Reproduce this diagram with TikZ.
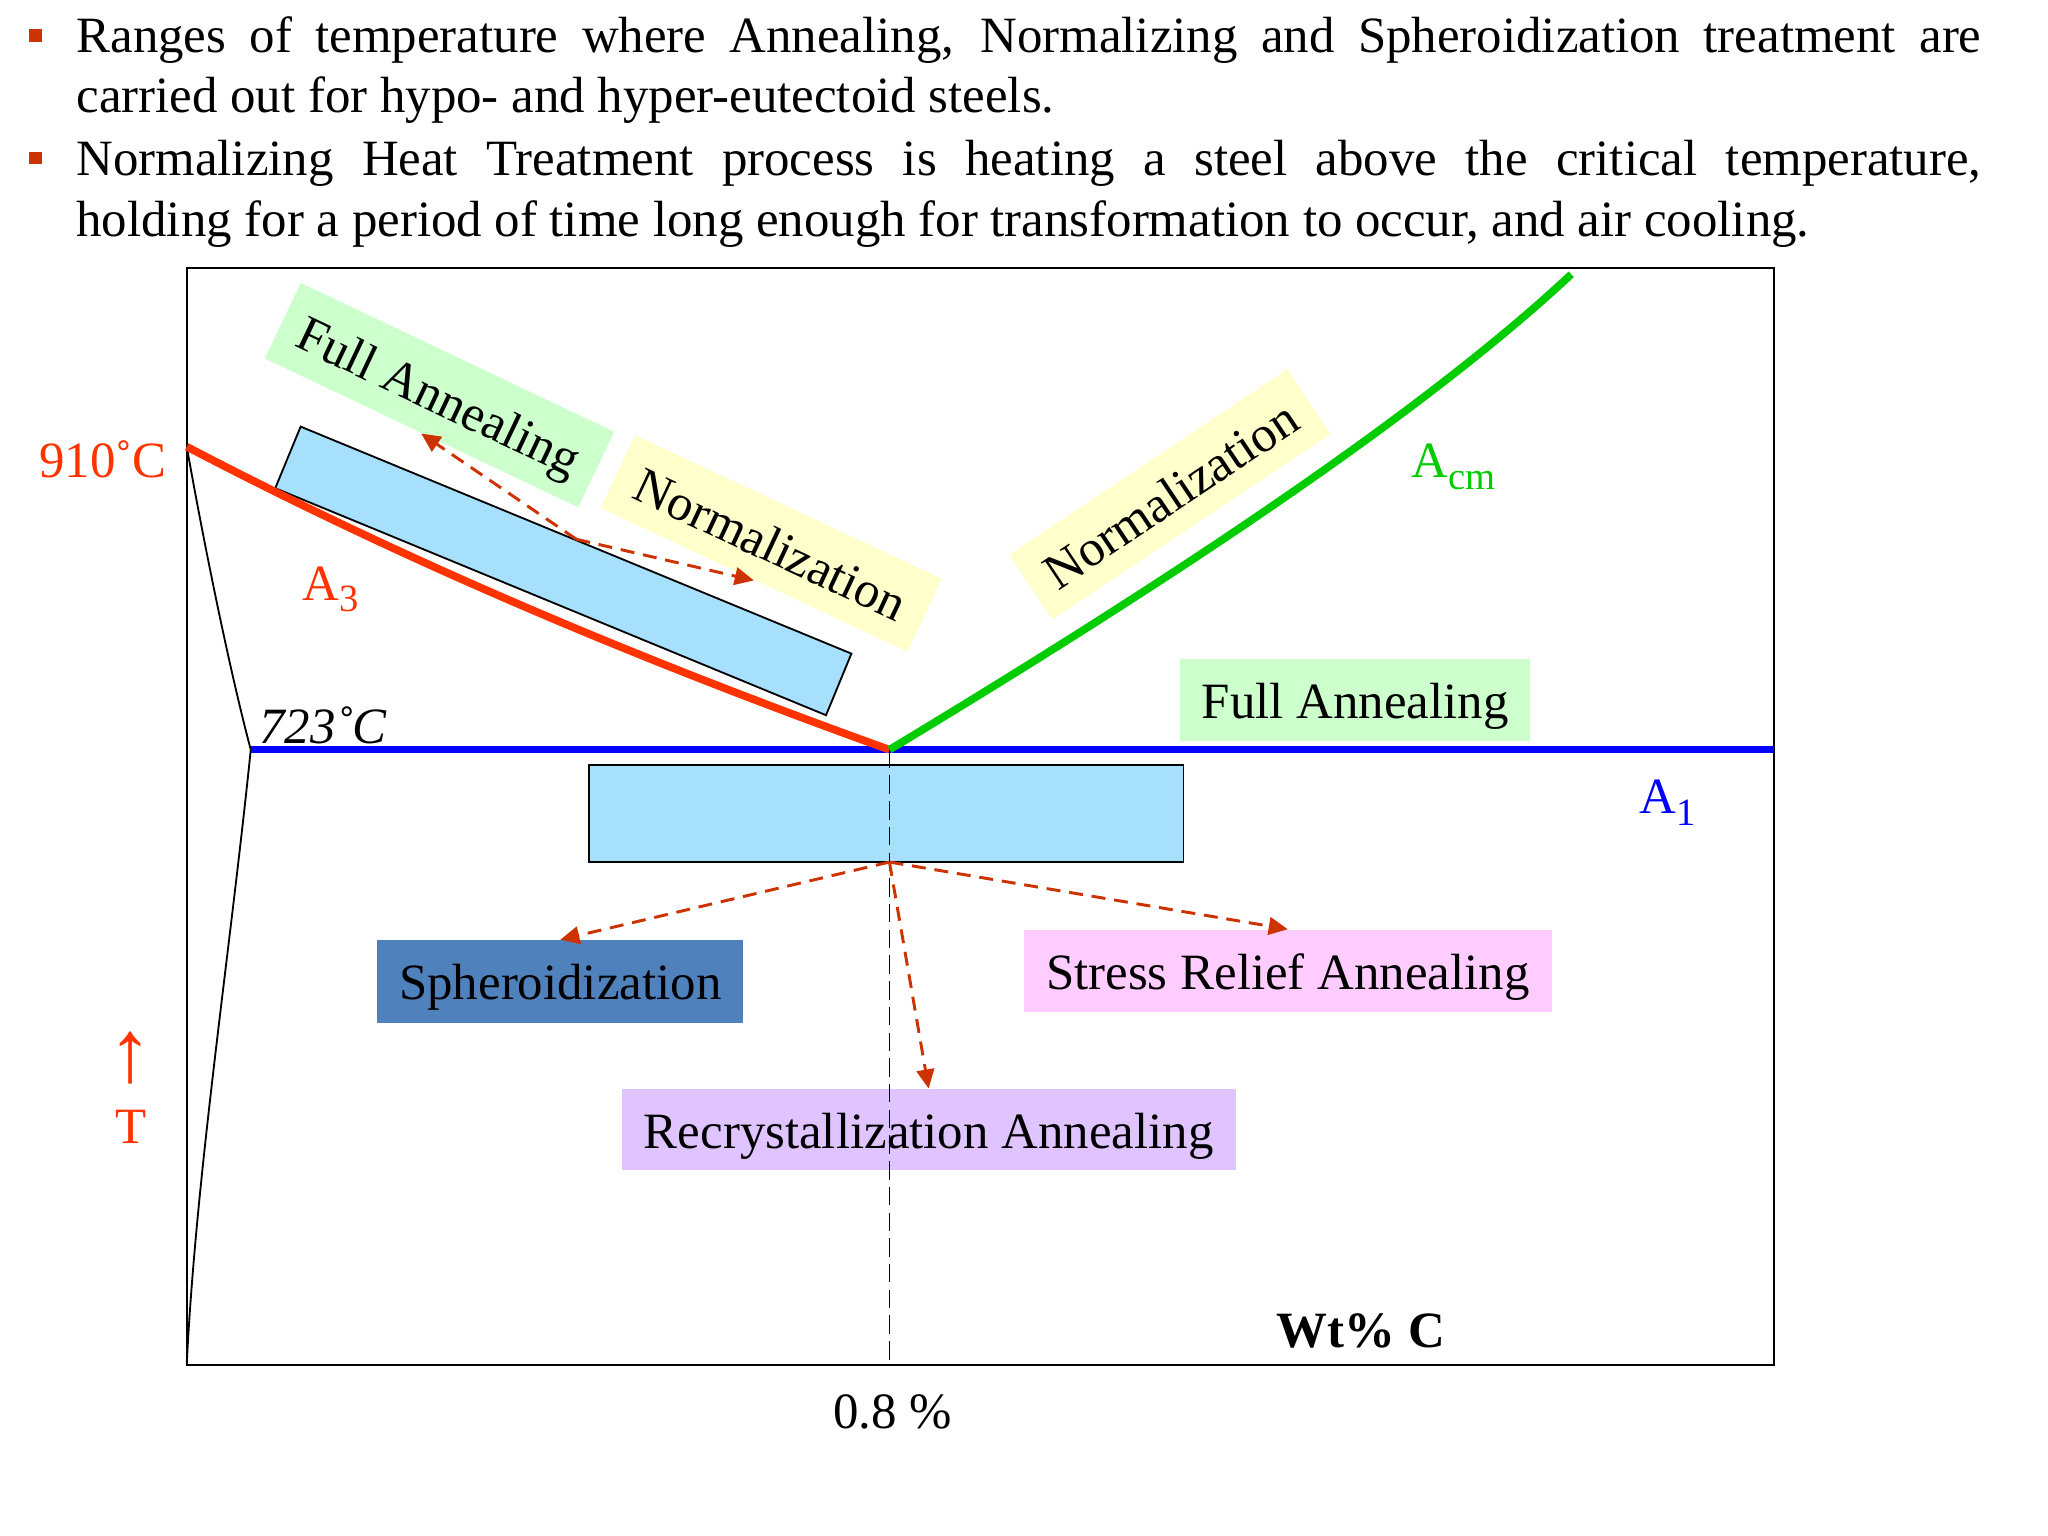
\documentclass[tikz,border=0pt]{standalone}
\usepackage{fontspec}
\setmainfont{Liberation Serif}
\usetikzlibrary{arrows.meta}
\definecolor{redline}{HTML}{FF3300}
\definecolor{arrowred}{HTML}{CC3300}
\definecolor{bulletred}{HTML}{CC3300}
\definecolor{lblue}{HTML}{A6E0FC}
\definecolor{lgreen}{HTML}{CCFFCC}
\definecolor{lyellow}{HTML}{FFFFCC}
\definecolor{lpink}{HTML}{FFCCFF}
\definecolor{lviolet}{HTML}{E0C4FF}
\definecolor{sblue}{HTML}{4F81BD}
\definecolor{gline}{HTML}{00CC00}
\definecolor{aone}{HTML}{0000FF}
\newcommand{\subtxt}[1]{\raisebox{-3.2pt}{\fontsize{10.5pt}{11pt}\selectfont #1}}
\begin{document}
\begin{tikzpicture}[x=0.0125cm,y=-0.0125cm,
  every node/.style={inner sep=0pt, font=\fontsize{13.85pt}{16.7pt}\selectfont},
  labelbox/.style={text height=11pt, text depth=1pt},
  zone/.style={draw=black, line width=0.5pt, fill=lblue},
  flow/.style={draw=arrowred, line width=0.8pt, dash pattern=on 3.8pt off 2.4pt,
    -{Triangle[length=5.2pt,width=4.8pt]}},
  bullet/.style={fill=bulletred, minimum size=0.12cm},
  thinline/.style={line width=0.5pt, black}]
\useasboundingbox (0,0) rectangle (1568,1176);
\fill[white] (0,0) rectangle (1568,1176);

% header
\node[bullet] (b1) at (27,27) {};
\node[bullet] (b2) at (27,121) {};
\node[anchor=base west] (h1) at (58,40) {\makebox[18.225cm][s]{Ranges of temperature where Annealing, Normalizing and Spheroidization treatment are}};
\node[anchor=base west] (h2) at (58,86) {carried out for hypo- and hyper-eutectoid steels.};
\node[anchor=base west] (h3) at (58,134) {\makebox[18.225cm][s]{Normalizing Heat Treatment process is heating a steel above the critical temperature,}};
\node[anchor=base west] (h4) at (58,181) {holding for a period of time long enough for transformation to occur, and air cooling.};

% frame
\draw[line width=0.6pt] (143,205) rectangle (1358,1045);

% key points
\coordinate (p910) at (143,342);
\coordinate (p723) at (192,574);
\coordinate (eut) at (681,574);
\coordinate (acmtop) at (1203,210);
\coordinate (a1end) at (1358,574);
\coordinate (orig) at (143,1044);
\coordinate (xbase) at (681,1045);
\coordinate (lo) at (681,660);

% boxes
\node[labelbox, fill=lgreen, minimum width=3.32cm, minimum height=0.8cm, rotate=-25.4] (fa) at (336.5,302.5) {Full Annealing};
\node[labelbox, fill=lyellow, minimum width=3.24cm, minimum height=0.77cm, rotate=-25.1] (nl) at (590.5,416) {Normalization};
\node[labelbox, fill=lyellow, minimum width=3.2cm, minimum height=0.746cm, rotate=33.75] (nr) at (895.8,378.4) {Normalization};
\node[zone, minimum width=5.7cm, minimum height=0.6375cm, rotate=-22.4] (bp) at (431.3,437.1) {};
\node[zone, minimum width=5.6875cm, minimum height=0.925cm] (lr) at (678.5,623) {};
\node[labelbox, fill=lgreen, minimum width=3.35cm, minimum height=0.779cm] (far) at (1037.5,536) {Full Annealing};
\node[labelbox, fill=sblue, minimum width=3.5cm, minimum height=0.7875cm] (sph) at (429,751.5) {Spheroidization};
\node[labelbox, fill=lpink, minimum width=5.05cm, minimum height=0.7875cm] (sra) at (986,743.5) {Stress Relief Annealing};
\node[labelbox, fill=lviolet, minimum width=5.875cm, minimum height=0.775cm] (rca) at (711,865) {Recrystallization Annealing};

% phase boundaries
\draw[thinline] (p910) .. controls (155,410) and (175,510) .. (p723);
\draw[thinline] (p723) .. controls (176,730) and (150,900) .. (orig);
\draw[aone, line width=1.95pt] (p723) -- (a1end);
\draw[redline, line width=2.1pt] (p910) .. controls (322,435.6) and (501,509.2) .. (eut);
\draw[gline, line width=2.1pt] (eut) .. controls (870,460) and (1080,325) .. (acmtop);
\draw[line width=0.5pt, dash pattern=on 5pt off 2pt] (eut) -- (xbase);

% arrows
\draw[flow] (bp.north) -- (fa.south);
\draw[flow] (bp.north) -- (nl.south);
\draw[flow] (lo) -- (sph.north);
\draw[flow] (lo) -- (rca.north);
\draw[flow] (lo) -- (sra.north);

% labels
\node[anchor=base east, text=redline] (t910) at (128,365.5) {910˚C};
\node[anchor=base west, text=redline] (ta3) at (231,459.4) {A\subtxt{3}};
\node[anchor=base west] (t723) at (198,569) {\itshape 723˚C};
\node[anchor=base west, text=gline] (tacm) at (1080,365.6) {A\subtxt{cm}};
\node[anchor=base west, text=aone] (ta1) at (1254.5,622.8) {A\subtxt{1}};
\node[anchor=base west] (twt) at (977,1032) {\bfseries Wt\% C};
\node[anchor=base] (t08) at (683.5,1093.6) {0.8 \%};
\node[text=redline, font=\fontsize{24pt}{26pt}\selectfont] (tarr) at (100.3,810.3) {↑};
\node[anchor=base, text=redline] (tT) at (100.3,875.4) {T};
\end{tikzpicture}
\end{document}
